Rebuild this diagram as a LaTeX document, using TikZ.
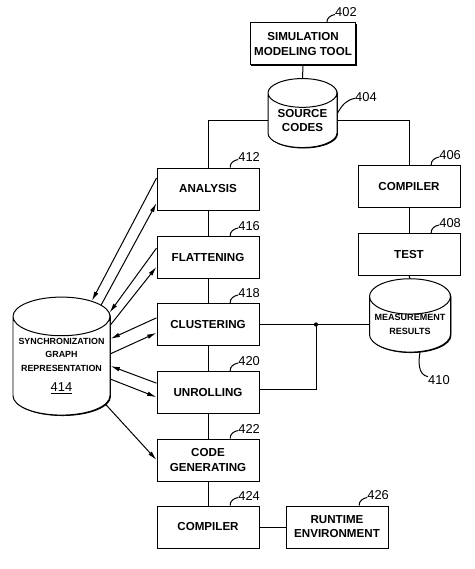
\documentclass[tikz,border=0pt]{standalone}
\usepackage{fontspec}
\setmainfont{Liberation Sans}
\usetikzlibrary{arrows.meta,shapes.geometric,shadows}

\tikzset{
  shade/.style={drop shadow={shadow xshift=0.8pt, shadow yshift=-0.8pt, fill=black, opacity=1}},
  box/.style={draw, fill=white, line width=0.85pt, minimum width=3.06cm, minimum height=1.26cm,
    align=center, font=\bfseries\fontsize{9.9}{12}\selectfont, shade},
  cyl/.style={cylinder, shape border rotate=90, draw, fill=white, line width=0.85pt,
    align=center, inner sep=0pt, shade},
  num/.style={font=\fontsize{11}{13}\selectfont, inner sep=0pt, anchor=west},
  link/.style={line width=0.85pt},
  tip/.style={line width=0.85pt, -{Latex[length=8pt,width=3.8pt]}},
}

\begin{document}
\begin{tikzpicture}
    \useasboundingbox (0,0) rectangle (14.22,-17.07);

    % Tool and source
    \node[box] (tool) at (9.09,-1.32) {SIMULATION\\MODELING TOOL};
    \node[cyl, minimum width=2.07cm, minimum height=2.07cm, aspect=0.58,
        font=\bfseries\fontsize{9.9}{12}\selectfont] (src) at (9.075,-3.615) {SOURCE\\CODES};

    % Left column
    \node[box] (analysis) at (6.24,-5.67) {ANALYSIS};
    \node[box] (flatten) at (6.24,-7.725) {FLATTENING};
    \node[box] (cluster) at (6.24,-9.735) {CLUSTERING};
    \node[box] (unroll) at (6.24,-11.775) {UNROLLING};
    \node[box] (codegen) at (6.24,-13.8) {CODE\\GENERATING};
    \node[box] (compB) at (6.24,-15.81) {COMPILER};
    \node[box] (runtime) at (10.11,-15.81) {RUNTIME\\ENVIRONMENT};

    % Right column
    \node[box] (compA) at (12.27,-5.595) {COMPILER};
    \node[box] (test) at (12.27,-7.635) {TEST};
    \node[cyl, minimum width=2.43cm, minimum height=2.07cm, aspect=0.5,
        font=\bfseries\fontsize{7.7}{11.5}\selectfont] (meas) at (12.3,-9.735) {MEASUREMENT\\RESULTS};

    % Synchronization graph
    \node[cyl, minimum width=2.91cm, minimum height=3.54cm, aspect=0.45,
        font=\bfseries\fontsize{7.6}{11.5}\selectfont] (sync) at (1.845,-10.98)
        {SYNCHRONIZATION\\GRAPH\\REPRESENTATION\\[6pt]{\mdseries\fontsize{11}{13}\selectfont\underline{414}}};

    % Flow lines
    \draw[link] (tool.south) -- (src.top);
    \draw[link] (src.west) -| (analysis.north);
    \draw[link] (src.east) -| (compA.north);
    \draw[link] (analysis) -- (flatten) -- (cluster) -- (unroll) -- (codegen) -- (compB);
    \draw[link] (compB) -- (runtime);
    \draw[link] (compA) -- (test);
    \draw[link] (test.south) -- (meas.top);
    \coordinate (join) at (9.48,-9.735);
    \draw[link] (cluster.east) -- (meas.west);
    \fill (join) circle (1.8pt);
    \draw[link] (join) |- ([yshift=0.1cm]unroll.east);

    % Exchange with the synchronization graph
    \draw[tip] ([yshift=0.33cm]analysis.west) -- (sync.65);
    \draw[tip] (sync.57) -- ([yshift=-0.42cm]analysis.west);
    \draw[tip] ([yshift=0.28cm]flatten.west) -- (sync.48);
    \draw[tip] (sync.40) -- ([yshift=-0.28cm]flatten.west);
    \draw[tip] ([yshift=0.2cm]cluster.west) -- (sync.29);
    \draw[tip] (sync.14) -- ([yshift=-0.25cm]cluster.west);
    \draw[tip] ([yshift=0.28cm]unroll.west) -- (sync.0);
    \draw[tip] (sync.-15) -- ([yshift=-0.14cm]unroll.west);
    \draw[tip] (sync.-41) -- (codegen.west);

    % Reference numerals
    \foreach \n/\t in {tool/402, analysis/412, flatten/416, cluster/418, unroll/420,
        codegen/422, compB/424, runtime/426, compA/406, test/408} {
        \node[num] (l\t) at ([xshift=-0.64cm, yshift=0.3cm]\n.north east) {\t};
        \draw[link] ([xshift=-0.88cm]\n.north east) to[out=95, in=190] ([yshift=-0.06cm]l\t.west);
    }
    \node[num] (l404) at (10.65,-2.91) {404};
    \draw[link] (src.12) to[out=60, in=190] ([yshift=-0.04cm]l404.west);
    \node[num] (l410) at (12.84,-11.4) {410};
    \draw[link] (meas.-70) to[out=-100, in=170] ([yshift=0.1cm]l410.west);
\end{tikzpicture}
\end{document}
